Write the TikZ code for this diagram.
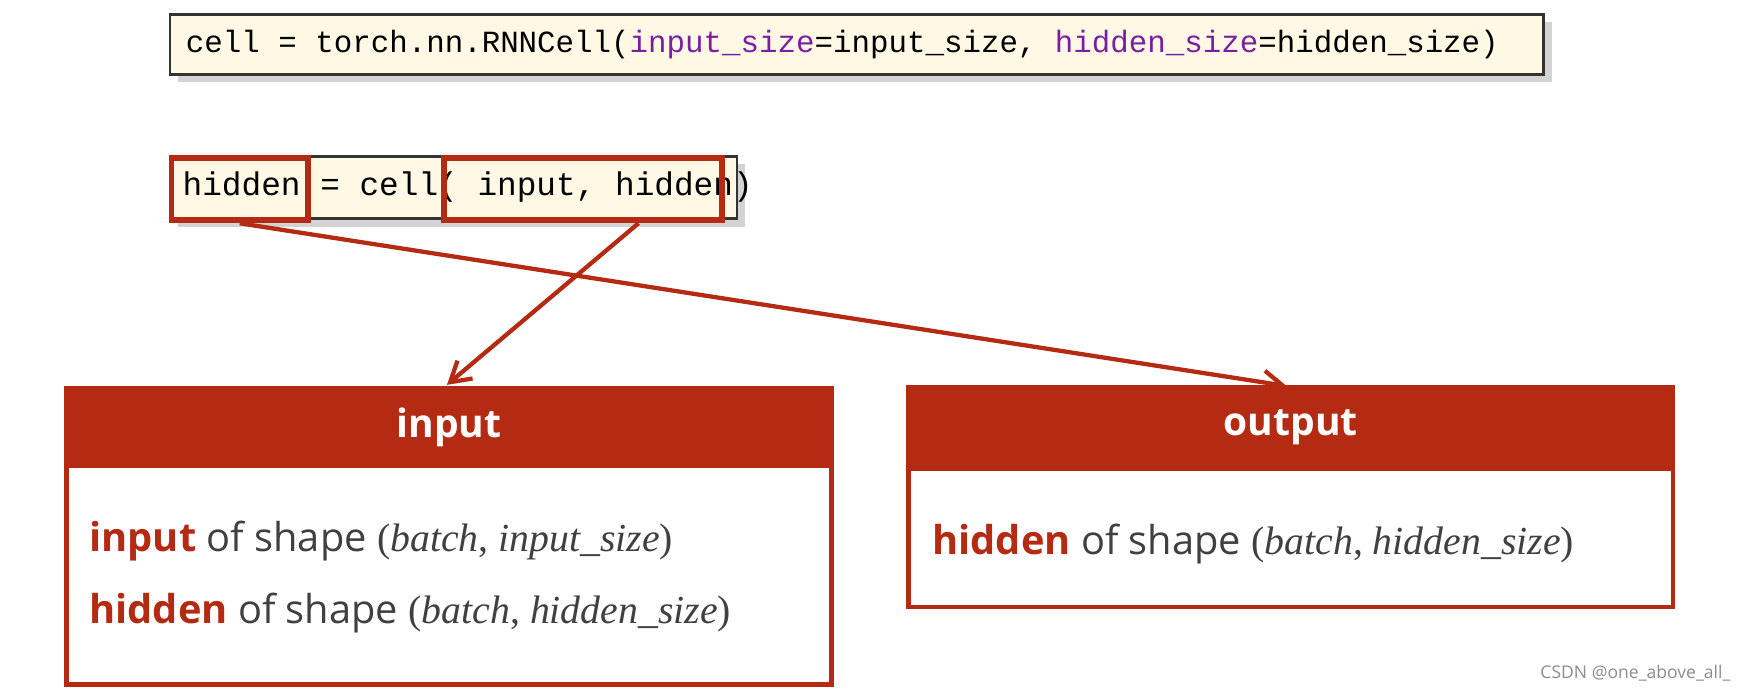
\documentclass[tikz,border=0pt]{standalone}
\usepackage{fontspec}
\setmainfont{Open Sans}
\newfontfamily\codefont{Liberation Mono}
\newfontfamily\myserif{Liberation Serif}
\usetikzlibrary{arrows.meta,shadows}
\definecolor{rd}{HTML}{B52A12}
\definecolor{cream}{HTML}{FFF8E5}
\definecolor{purp}{HTML}{7A1FA2}
\definecolor{txt}{HTML}{404040}
\begin{document}
\begin{tikzpicture}[x=0.01cm,y=-0.01cm,
  code/.style={draw=black!80,fill=cream,line width=0.7pt,drop shadow={shadow xshift=2pt,shadow yshift=-2pt,opacity=0.35}},
  redbox/.style={draw=rd,line width=1.5pt},
  arr/.style={draw=rd,line width=1.1pt,-{Straight Barb[length=5pt,width=6pt]}},
  panel/.style={draw=rd,line width=1.2pt,fill=white},
  hdr/.style={fill=rd,draw=rd,line width=1.2pt},
  ctext/.style={font=\codefont\fontsize{7.9}{10}\selectfont,anchor=west,inner sep=0pt}]
\useasboundingbox (0,0) rectangle (1568,630);
\node[code,minimum width=12.38cm,minimum height=0.54cm,anchor=north west,inner sep=0pt] (top) at (152,12) {};
\node[ctext] (toptext) at (167,40) {cell = torch.nn.RNNCell(\textcolor{purp}{input\_size}=input\_size, \textcolor{purp}{hidden\_size}=hidden\_size)};
\node[code,minimum width=5.11cm,minimum height=0.56cm,anchor=north west,inner sep=0pt] (call) at (152,140) {};
\node[ctext,font=\codefont\fontsize{8.4}{10}\selectfont] (calltext) at (164,169) {hidden = cell( input, hidden)};
\node[redbox,minimum width=1.23cm,minimum height=0.56cm,anchor=north west,inner sep=0pt] (hid) at (152,140) {};
\node[redbox,minimum width=2.5cm,minimum height=0.56cm,anchor=north west,inner sep=0pt] (inh) at (398,140) {};
\node[panel,minimum width=6.89cm,minimum height=2.67cm,anchor=north west,inner sep=0pt] (inp) at (58,348) {};
\node[hdr,minimum width=6.89cm,minimum height=0.70cm,anchor=north west,inner sep=0pt] (inph) at (58,348) {};
\node[text=white,font=\bfseries\fontsize{10}{12}\selectfont] (inpt) at (inph.center) {input};
\node[panel,minimum width=6.89cm,minimum height=1.98cm,anchor=north west,inner sep=0pt] (out) at (817,347) {};
\node[hdr,minimum width=6.89cm,minimum height=0.73cm,anchor=north west,inner sep=0pt] (outh) at (817,347) {};
\node[text=white,font=\bfseries\fontsize{10}{12}\selectfont] (outt) at (outh.center) {output};
\tikzset{body/.style={anchor=west,inner sep=0pt,text=txt,font=\fontsize{10.2}{12}\selectfont}}
\node[body] (l1) at (80,488) {\textcolor{rd}{\bfseries input} of shape {\myserif (\textit{batch}, \textit{input\_size})}};
\node[body] (l2) at (80,553) {\textcolor{rd}{\bfseries hidden} of shape {\myserif (\textit{batch}, \textit{hidden\_size})}};
\node[body] (l3) at (840,491) {\textcolor{rd}{\bfseries hidden} of shape {\myserif (\textit{batch}, \textit{hidden\_size})}};
\coordinate (a1) at (403,347);
\coordinate (a2) at (1160,348);
\draw[arr] (hid.south) -- (a2);
\draw[arr] ([xshift=0.5cm]inh.south) -- (a1);
\node[anchor=south east,inner sep=2pt,text=black!45,font=\fontsize{4.5}{5}\selectfont] (wm) at (1568,622) {CSDN @one\_above\_all\_};
\end{tikzpicture}
\end{document}
